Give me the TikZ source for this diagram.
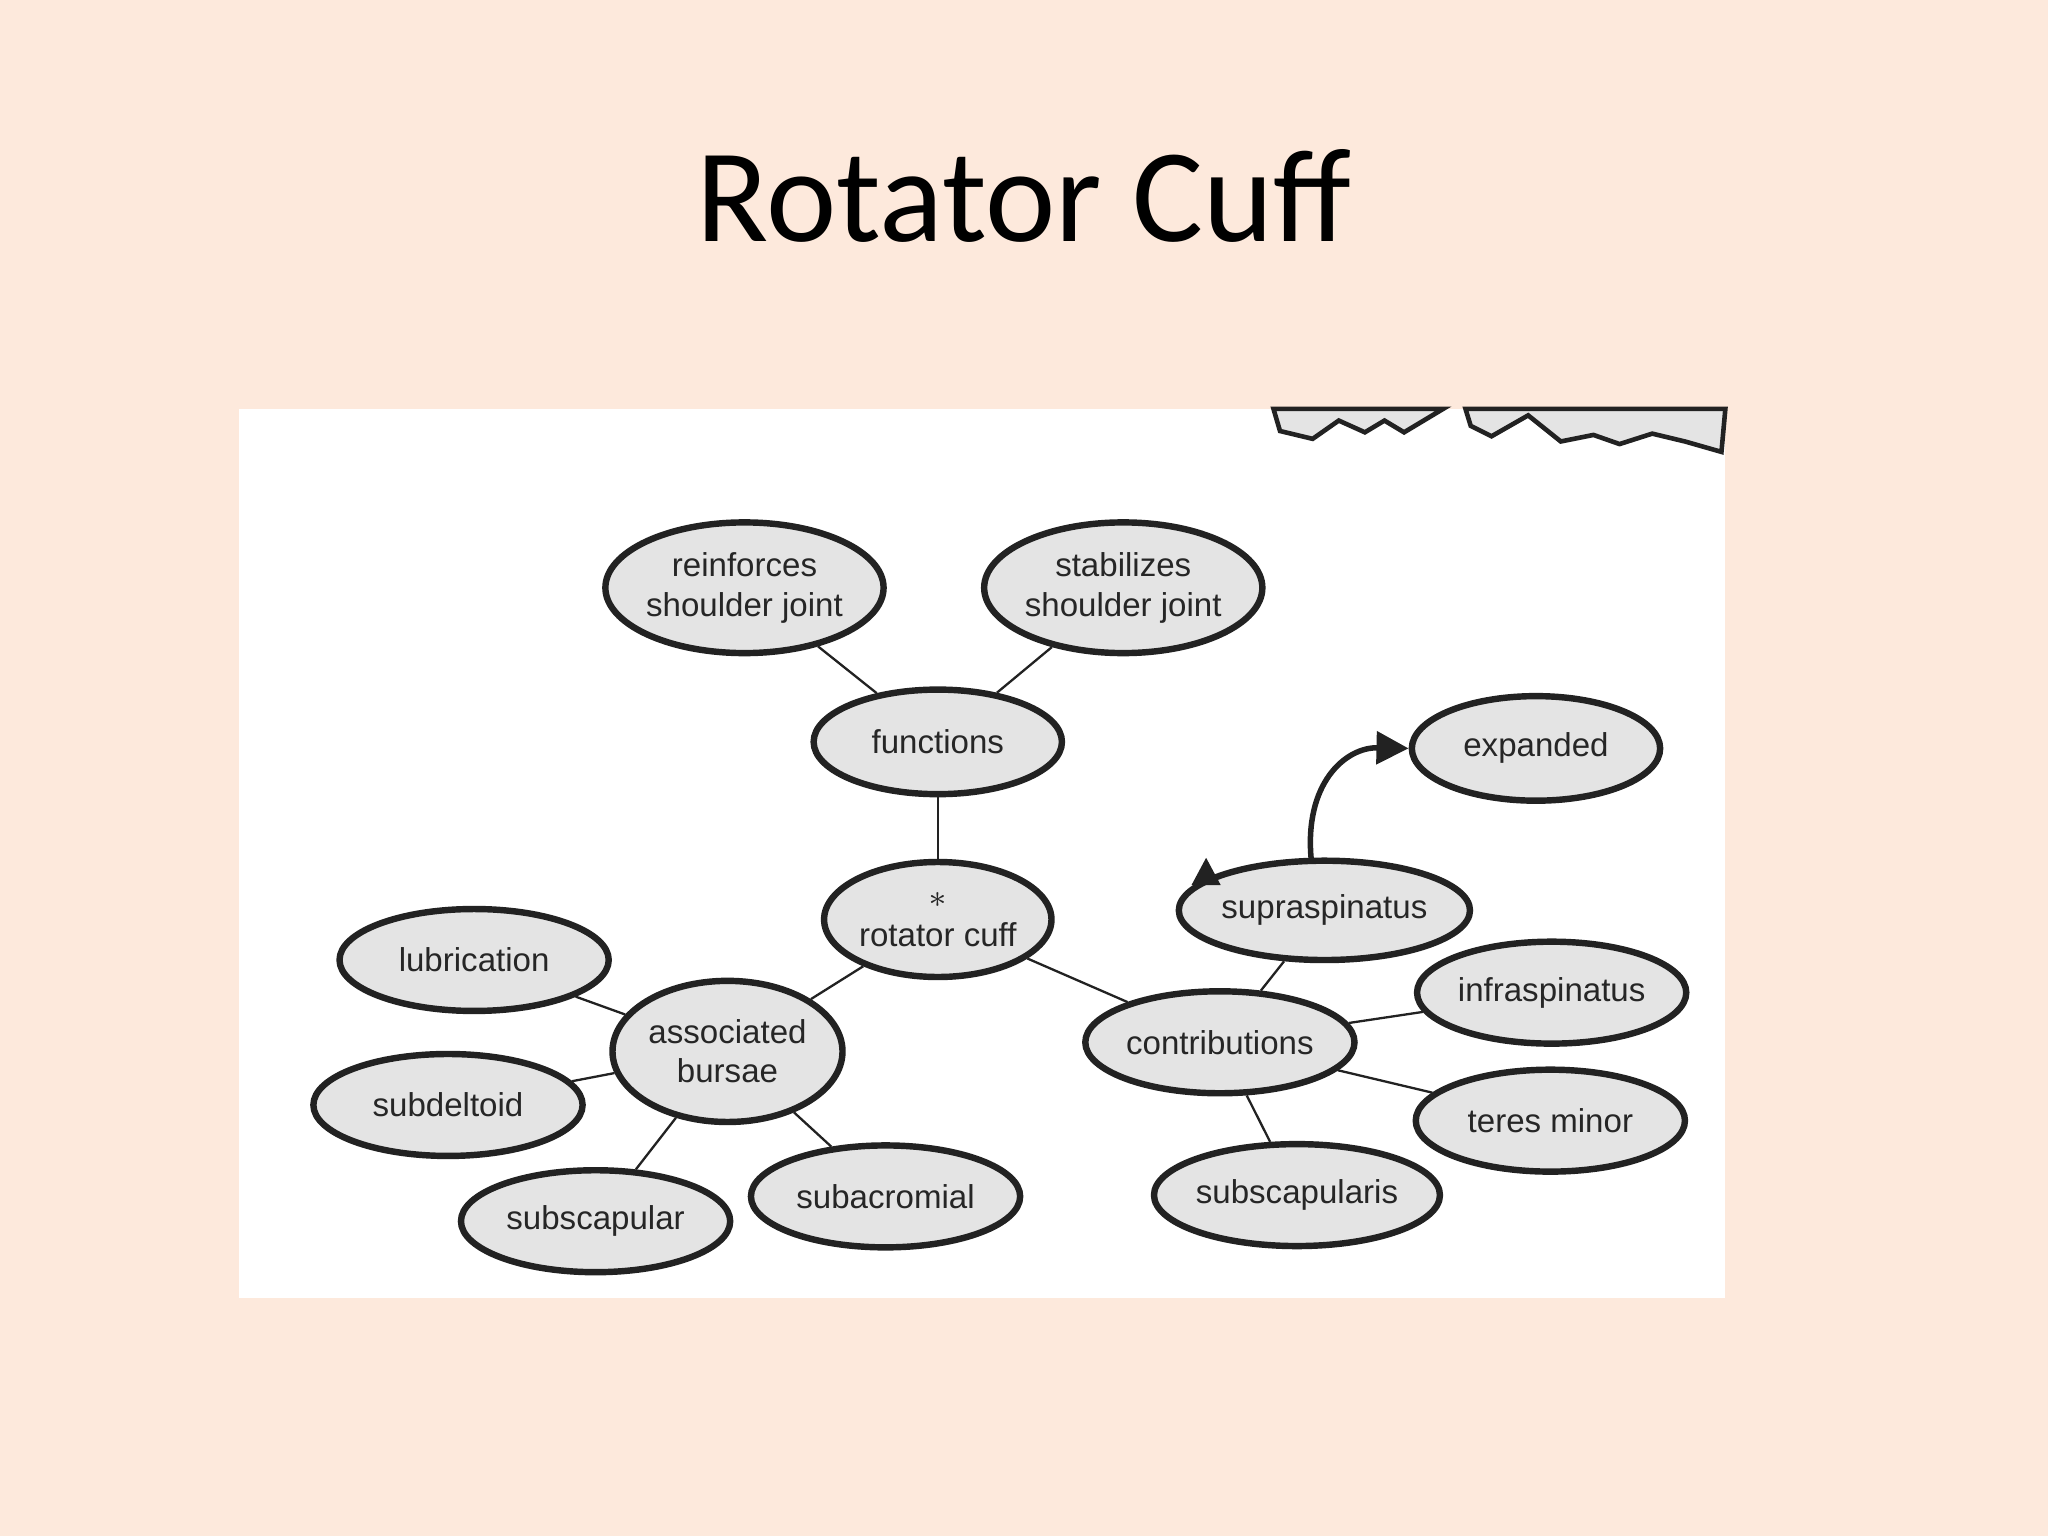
\documentclass[tikz,border=0pt]{standalone}
\usepackage{fontspec}
\setmainfont{Liberation Sans}
\newfontfamily\titlefont{Carlito}
\usetikzlibrary{shapes.geometric,arrows.meta}
\definecolor{peach}{HTML}{FDE9DC}
\definecolor{nodefill}{HTML}{E4E4E4}
\definecolor{edgec}{HTML}{222222}
\tikzset{
 bub/.style={ellipse,draw=edgec,line width=1.4pt,fill=nodefill,inner sep=0pt,
   font=\fontsize{7.2pt}{8.6pt}\selectfont,align=center,text=black!85},
 conn/.style={draw=edgec,line width=0.5pt}
}
\begin{document}
\begin{tikzpicture}[x=0.01cm,y=-0.01cm]
\fill[peach] (0,0) rectangle (1568,1176);
\useasboundingbox (0,0) rectangle (1568,1176);
\fill[white] (183,313) rectangle (1321,994);
\node[font=\titlefont\fontsize{29pt}{34pt}\selectfont] (title) at (784,150) {Rotator Cuff};
% jagged shapes
\draw[fill=nodefill,draw=edgec,line width=1pt] (975,313) -- (980,330) -- (1005,336) -- (1025,322) -- (1045,331) -- (1060,322) -- (1075,331) -- (1105,313) -- cycle;
\draw[fill=nodefill,draw=edgec,line width=1pt] (1122,313) -- (1126,326) -- (1142,334) -- (1170,318) -- (1195,338) -- (1220,333) -- (1240,340) -- (1265,332) -- (1290,338) -- (1318,346) -- (1321,313) -- cycle;
% nodes
\node[bub,minimum width=2.06cm,minimum height=1.0cm] (rein) at (570,450) {reinforces\\shoulder joint};
\node[bub,minimum width=2.06cm,minimum height=1.0cm] (stab) at (860,450) {stabilizes\\shoulder joint};
\node[bub,minimum width=1.9cm,minimum height=0.8cm] (func) at (718,568) {functions};
\node[bub,minimum width=1.74cm,minimum height=0.88cm] (rc) at (718,704) {$\ast$\\rotator cuff};
\node[bub,minimum width=1.9cm,minimum height=0.8cm] (exp) at (1176,573) {expanded};
\node[bub,minimum width=2.06cm,minimum height=0.76cm] (supra) at (1014,697) {supraspinatus};
\node[bub,minimum width=2.06cm,minimum height=0.78cm] (infra) at (1188,760) {infraspinatus};
\node[bub,minimum width=2.06cm,minimum height=0.78cm] (contr) at (934,798) {contributions};
\node[bub,minimum width=2.06cm,minimum height=0.78cm] (teres) at (1187,858) {teres minor};
\node[bub,minimum width=2.06cm,minimum height=0.78cm] (subsc) at (993,915) {subscapularis};
\node[bub,minimum width=2.06cm,minimum height=0.78cm] (lub) at (363,735) {lubrication};
\node[bub,minimum width=1.76cm,minimum height=1.08cm] (bur) at (557,805) {associated\\bursae};
\node[bub,minimum width=2.06cm,minimum height=0.78cm] (sdel) at (343,846) {subdeltoid};
\node[bub,minimum width=2.06cm,minimum height=0.78cm] (sscap) at (456,935) {subscapular};
\node[bub,minimum width=2.06cm,minimum height=0.78cm] (sacr) at (678,916) {subacromial};
% connectors
\draw[conn] (rein) -- (func);
\draw[conn] (stab) -- (func);
\draw[conn] (func) -- (rc);
\draw[conn] (rc) -- (bur);
\draw[conn] (rc) -- (contr);
\draw[conn] (bur) -- (lub);
\draw[conn] (bur) -- (sdel);
\draw[conn] (bur) -- (sscap);
\draw[conn] (bur) -- (sacr);
\draw[conn] (contr) -- (supra);
\draw[conn] (contr) -- (infra);
\draw[conn] (contr) -- (teres);
\draw[conn] (contr) -- (subsc);
\draw[draw=edgec,line width=1.2pt,-{Triangle[length=6pt,width=6pt]}] (supra.north west |- supra.north) ++(-10,0) coordinate (s0);
\draw[draw=edgec,line width=1.2pt,-{Triangle[length=7pt,width=7pt]}] (1004,659) .. controls (998,600) and (1030,572) .. (exp.west);
\end{tikzpicture}
\end{document}
